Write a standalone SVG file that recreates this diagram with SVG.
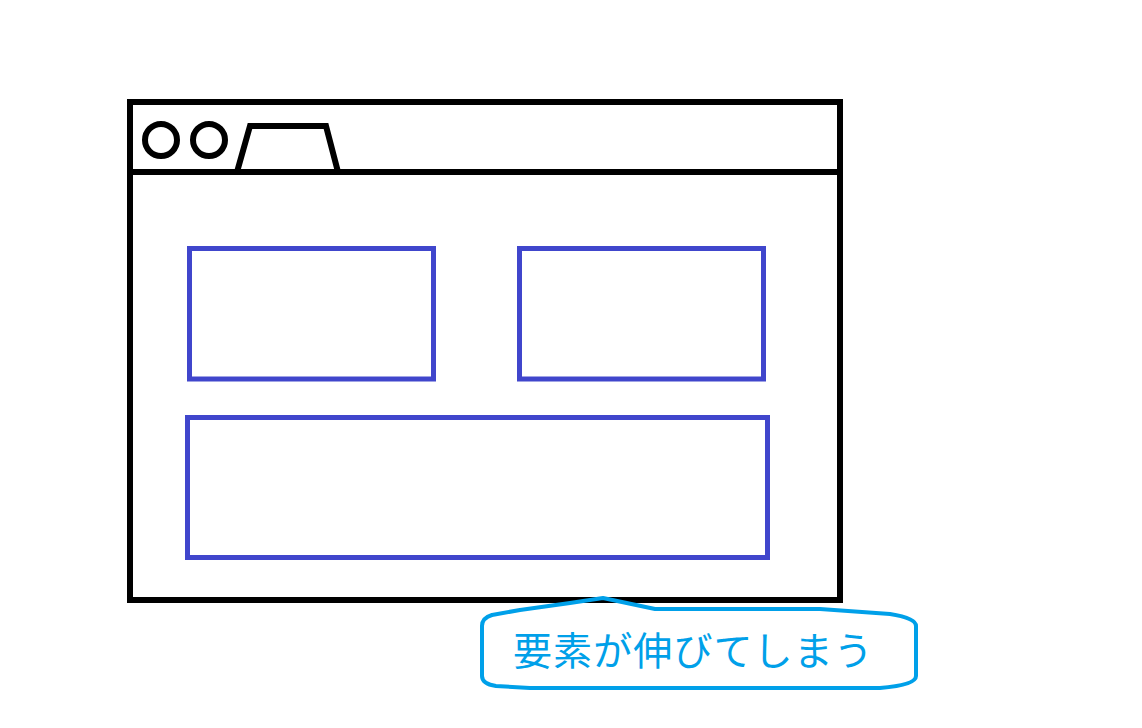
<svg xmlns="http://www.w3.org/2000/svg" width="1142" height="728" viewBox="0 0 1142 728">
<style>
.win{fill:none;stroke:#000;stroke-width:6}
.box{fill:none;stroke:#4046CC;stroke-width:5}
.callout{fill:none;stroke:#00A0E9;stroke-width:4;stroke-linejoin:round}
.label{font-family:"Noto Sans CJK JP","Noto Sans CJK SC",sans-serif;font-size:39px;letter-spacing:1.1px;fill:#00A0E9}
</style>
<rect width="1142" height="728" fill="#fff"/>
<g id="browser">
<rect class="win" x="130" y="102" width="710" height="498"/>
<line class="win" x1="130" y1="172" x2="840" y2="172"/>
<circle class="win" cx="161" cy="140" r="16" stroke-width="5"/>
<circle class="win" cx="209" cy="140" r="16" stroke-width="5"/>
<polyline class="win" points="237,172 250,126 326,126 338,172" stroke-width="5"/>
</g>
<g id="box1"><rect class="box" x="189.5" y="248.5" width="244" height="130.5"/></g>
<g id="box2"><rect class="box" x="519.5" y="248.5" width="244" height="130.5"/></g>
<g id="box3"><rect class="box" x="187.5" y="417.5" width="580" height="140"/></g>
<g id="callout">
<path class="callout" d="M603,598 L570,603 L520,610 L492,615 Q482,618 482,626 L482,676 Q482,684 496,686 L530,688 L880,688 Q916,685 916,676 L916,626 Q916,618 890,614 L820,609 L655,609 Z"/>
<text class="label" x="513" y="665">要素が伸びてしまう</text>
</g>
</svg>
